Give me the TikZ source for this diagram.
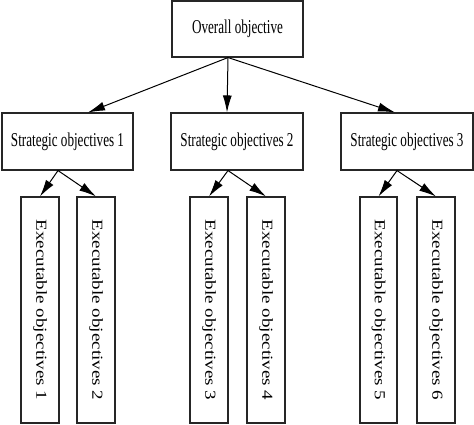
\documentclass[tikz,border=0pt]{standalone}
\usepackage{fontspec}
\setmainfont{Liberation Serif}
\usetikzlibrary{arrows.meta}
\newcommand{\sqz}[1]{\scalebox{0.67}[1]{#1}}
\newcommand{\vtx}[1]{\scalebox{0.78}[0.97]{\rotatebox{-90}{#1}}}
\begin{document}
\begin{tikzpicture}[x=1pt,y=-1pt,
  box/.style={draw=black!85, line width=1.1pt, inner sep=0pt, font=\fontsize{19.6}{22}\selectfont},
  sbox/.style={box, minimum width=131pt, minimum height=57pt},
  ebox/.style={box, minimum width=38pt, minimum height=226pt},
  arr/.style={-{Latex[length=17pt,width=9pt]}, line width=1pt}]
\useasboundingbox (0,0) rectangle (474,425);
\node[box, minimum width=131pt, minimum height=56pt] (top) at (237.5,29) {\sqz{Overall objective}};
\node[sbox] (s1) at (67.5,141.5) {\sqz{Strategic objectives 1}};
\node[sbox, minimum width=132pt] (s2) at (237,141.5) {\sqz{Strategic objectives 2}};
\node[sbox, minimum width=132pt] (s3) at (407,141.5) {\sqz{Strategic objectives 3}};
\node[ebox] (e1) at (40,310) {\vtx{Executable objectives 1}};
\node[ebox] (e2) at (96,310) {\vtx{Executable objectives 2}};
\node[ebox] (e3) at (209,310) {\vtx{Executable objectives 3}};
\node[ebox] (e4) at (266,310) {\vtx{Executable objectives 4}};
\node[ebox, minimum width=37pt] (e5) at (378.5,310) {\vtx{Executable objectives 5}};
\node[ebox] (e6) at (436,310) {\vtx{Executable objectives 6}};
\coordinate (t0) at ([xshift=-9.5pt]top.south);
\draw[arr] (t0) -- ([xshift=20.5pt]s1.north);
\draw[arr] (t0) -- ([xshift=-10pt]s2.north);
\draw[arr] (t0) -- ([xshift=-12pt]s3.north);
\coordinate (b1) at ([xshift=-9.5pt]s1.south);
\coordinate (b2) at ([xshift=-9pt]s2.south);
\coordinate (b3) at ([xshift=-10pt]s3.south);
\draw[arr] (b1) -- (e1.north);
\draw[arr] (b1) -- (e2.north);
\draw[arr] (b2) -- (e3.north);
\draw[arr] (b2) -- (e4.north);
\draw[arr] (b3) -- (e5.north);
\draw[arr] (b3) -- (e6.north);
\end{tikzpicture}
\end{document}
